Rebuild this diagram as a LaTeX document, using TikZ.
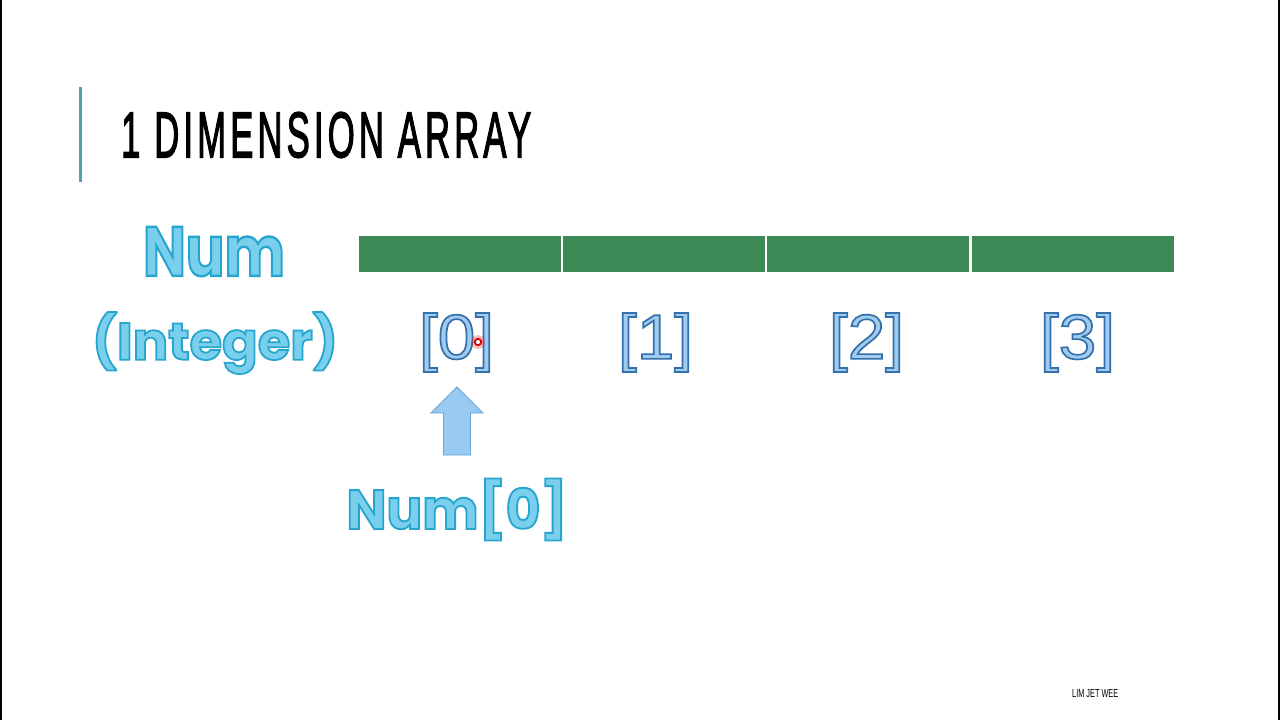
\documentclass[tikz,border=0pt]{standalone}
\usepackage{fontspec}
\setmainfont{Liberation Sans}
\newfontfamily\titlefont[LetterSpace=12]{Liberation Sans}
\newfontfamily\popfont{Poppins}
\definecolor{accent}{RGB}{84,160,178}
\definecolor{bargreen}{RGB}{62,138,86}
\definecolor{numfill}{RGB}{122,208,236}
\definecolor{idxfill}{RGB}{160,202,238}
\definecolor{arrfill}{RGB}{152,202,242}
\definecolor{arrline}{RGB}{104,162,216}
% outlined text via PDF text render mode 2 (fill + stroke)
\newcommand{\outlined}[3]{\special{pdf:literal direct #1 RG #2 w 2 Tr}#3\special{pdf:literal direct 0 Tr}}
\tikzset{
  cell/.style={fill=bargreen, minimum width=202pt, minimum height=36pt, inner sep=0pt},
  idx/.style={inner sep=0pt, text=idxfill},
  big/.style={inner sep=0pt, text=numfill},
}
\newcommand{\idxlabel}[1]{\resizebox*{75pt}{59pt}{\fontsize{62}{64}\selectfont\outlined{0.20 0.44 0.67}{1.6}{#1}}}
\newcommand{\bigtext}[1]{\popfont\bfseries\fontsize{70}{72}\selectfont\outlined{0.15 0.65 0.81}{2.4}{#1}}
\begin{document}
\begin{tikzpicture}[x=1pt,y=-1pt]
\useasboundingbox (0,0) rectangle (1280,720);
\fill[white] (0,0) rectangle (1280,720);
% slide borders
\fill[black] (0,0) rectangle (1.5,720);
\fill[black] (1278,0) rectangle (1280,720);
% title
\fill[accent] (79,87) rectangle (81.5,182);
\node[anchor=south west, inner sep=0pt] (title) at (121,158)
  {\resizebox{410pt}{45pt}{\titlefont\fontsize{61}{63}\selectfont\outlined{0 0 0}{1.6}{1 DIMENSION ARRAY}}};
% array cells
\node[cell] (c0) at (460,253.5) {};
\node[cell] (c1) at (664,253.5) {};
\node[cell] (c2) at (868,253.5) {};
\node[cell] (c3) at (1072.5,253.5) {};
% index labels
\node[idx] (l0) at (456.5,342.5) {\idxlabel{[0]}};
\node[idx] (l1) at (655.5,342.5) {\idxlabel{[1]}};
\node[idx] (l2) at (866.5,342.5) {\idxlabel{[2]}};
\node[idx] (l3) at (1077.5,342.5) {\idxlabel{[3]}};
% variable name
\node[big, anchor=south] (num) at (214,276.5)
  {\resizebox{142pt}{49pt}{\bigtext{Num}}};
\node[big] (integer) at (215,343)
  {\resizebox*{246pt}{62pt}{\bigtext{(Integer)}}};
% arrow
\filldraw[fill=arrfill, draw=arrline, line width=0.8pt]
  (443.5,455) -- (443.5,413) -- (431,413) -- (457,387) -- (483,413) -- (470.5,413) -- (470.5,455) -- cycle;
\node[big] (num0) at (457,509.5)
  {\resizebox*{221pt}{62pt}{\bigtext{Num[0]}}};
% laser pointer
\fill[red, opacity=0.25] (478,342) circle (7);
\filldraw[draw=red!85!black, fill=white, line width=1.8pt] (478,342) circle (3.2);
% footer
\node[anchor=south west, inner sep=0pt] (footer) at (1072,698)
  {\resizebox{46pt}{8pt}{\fontsize{10}{12}\selectfont LIM JET WEE}};
\end{tikzpicture}
\end{document}
